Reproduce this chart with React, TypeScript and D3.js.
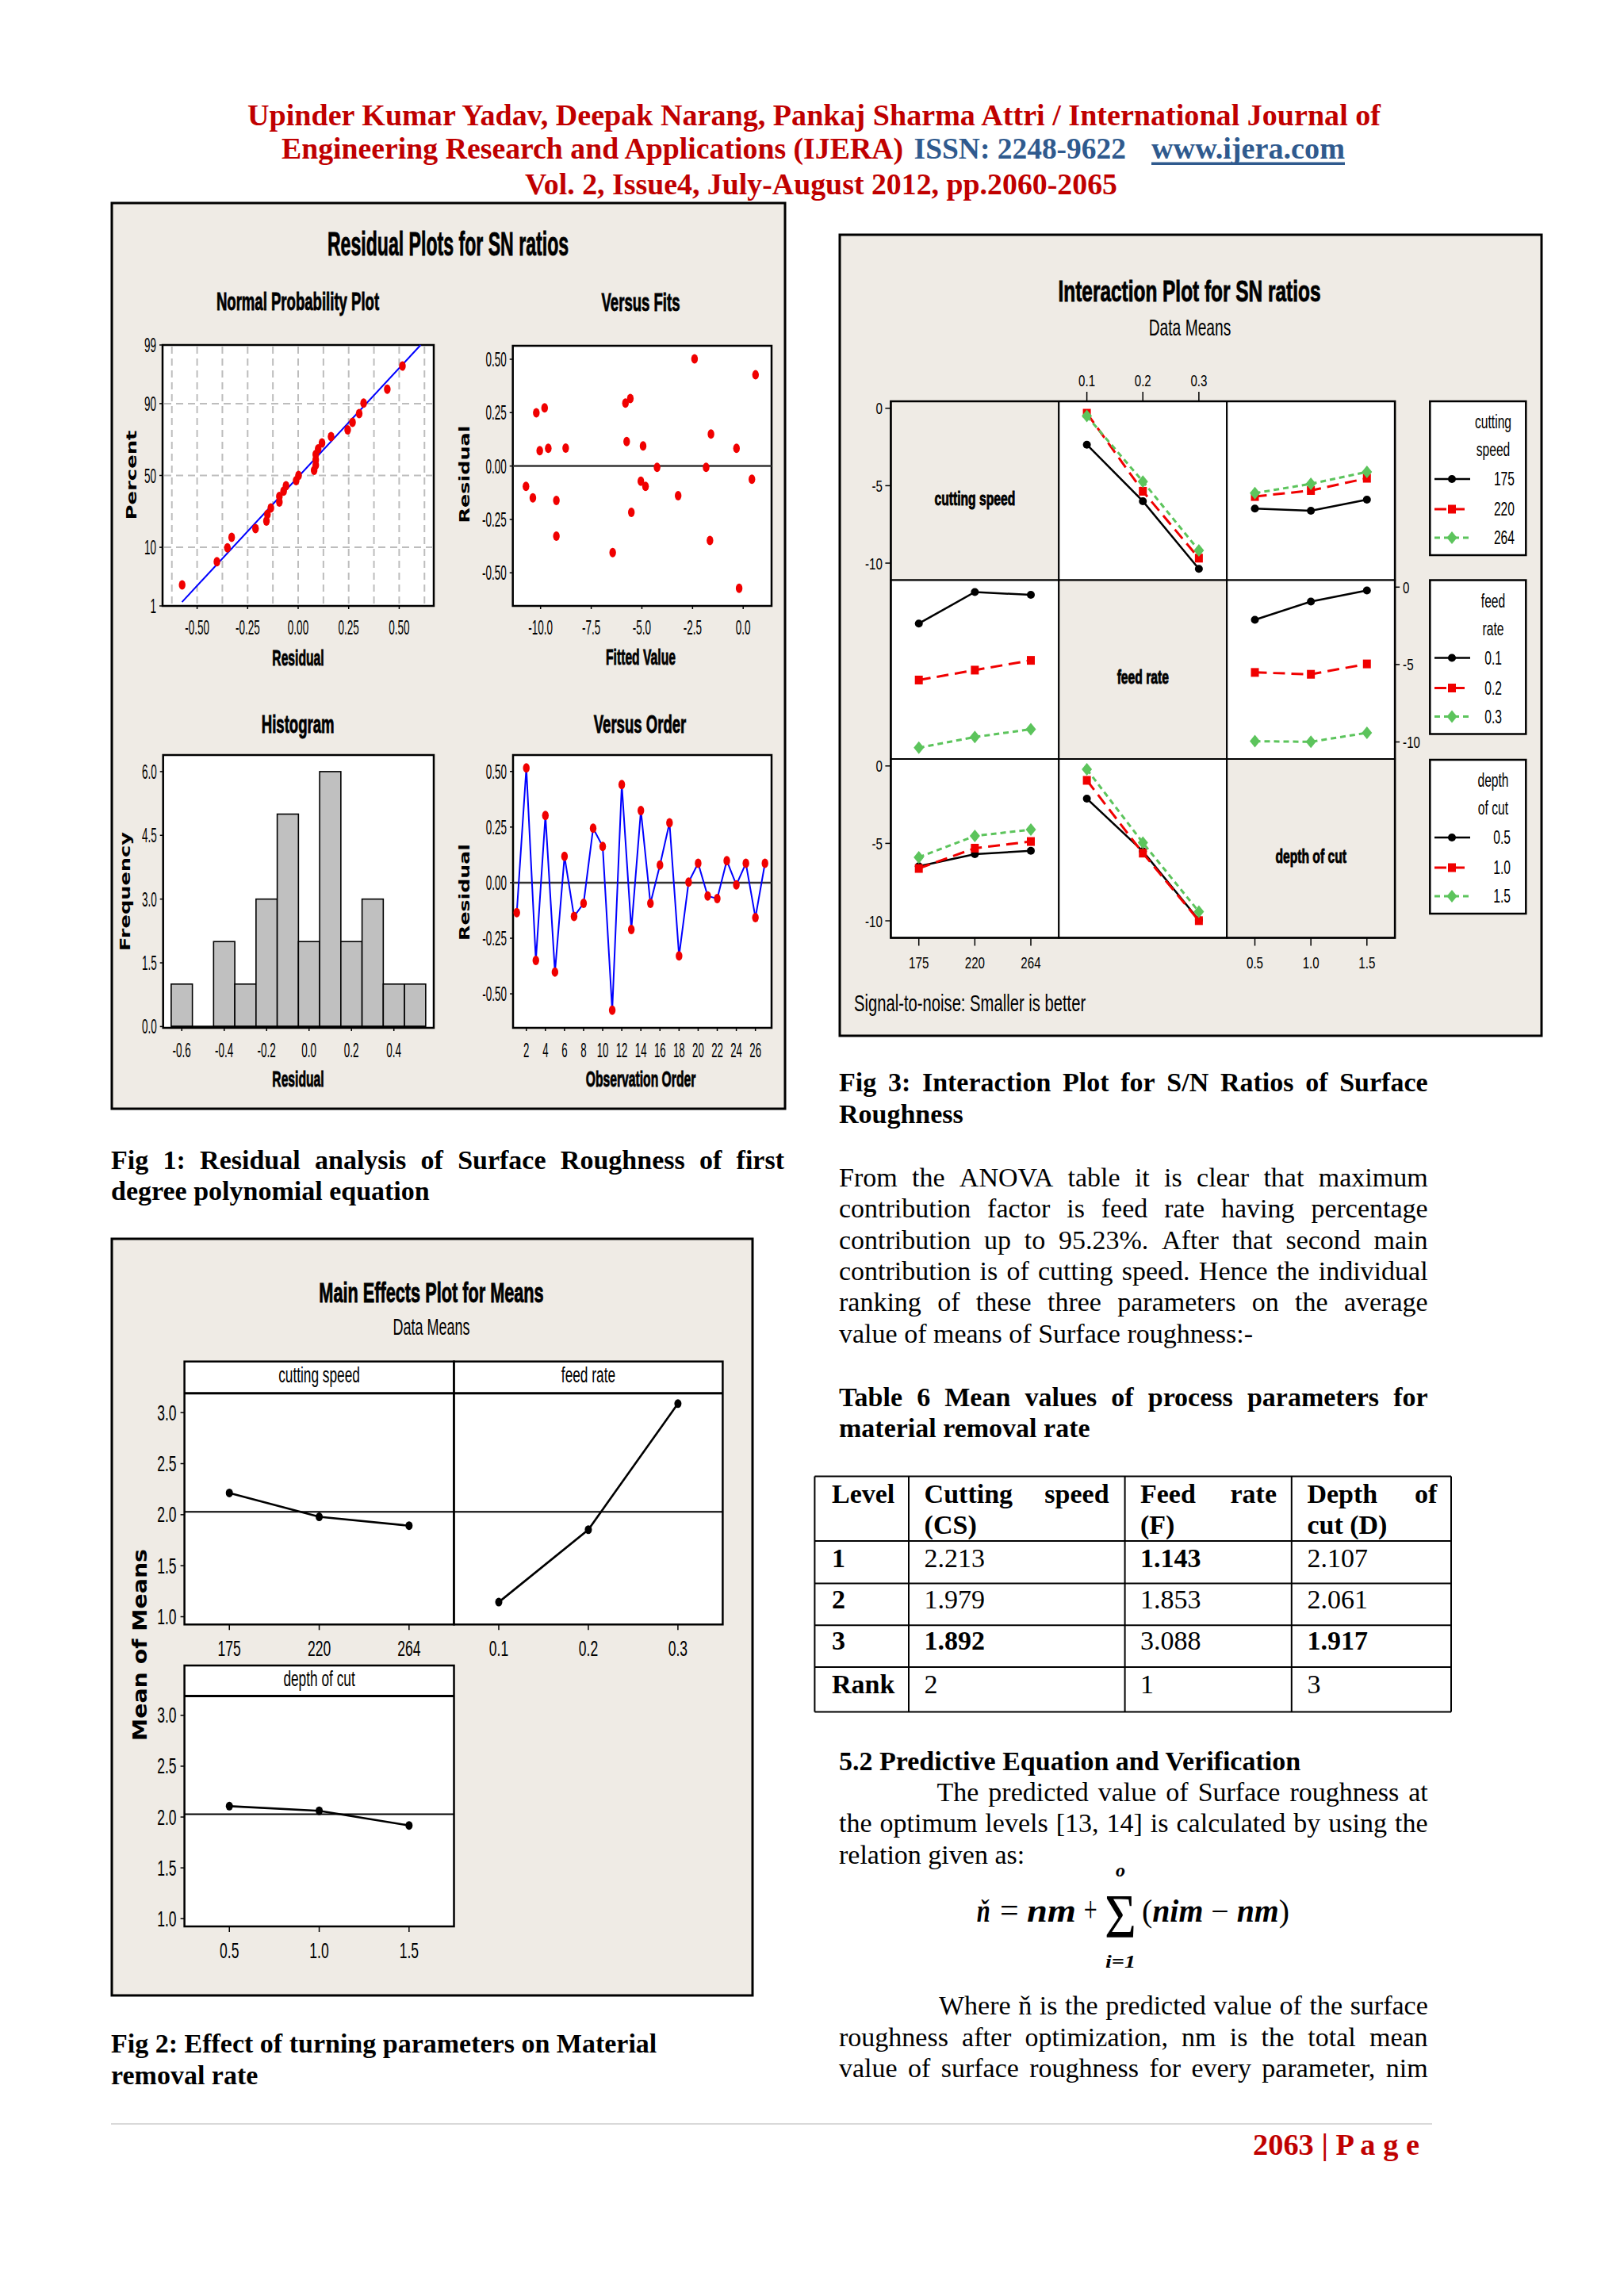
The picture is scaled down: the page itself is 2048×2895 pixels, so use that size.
import React from 'react';
import * as d3 from 'd3';

// ---- Fig 1: residual plots ----
const orderResidual = [-0.135, 0.516, -0.350, 0.302, -0.402, 0.118, -0.152, -0.093, 0.245, 0.163, -0.574, 0.441, -0.211, 0.324, -0.093, 0.079, 0.269, -0.329, 0.002, 0.087, -0.060, -0.072, 0.099, -0.010, 0.087, -0.157, 0.087];
const fitValue = [-10.72, -10.38, -10.21, -10.04, -9.80, -9.62, -9.22, -9.22, -8.76, -6.44, -5.81, -5.75, -5.57, -5.52, -5.05, -4.94, -4.82, -4.25, -3.21, -2.40, -1.83, -1.64, -1.59, -0.33, -0.20, 0.43, 0.61];
const fitResidual = [-0.095, -0.149, 0.249, 0.072, 0.272, 0.083, -0.161, -0.328, 0.084, -0.405, 0.295, 0.115, 0.316, -0.217, -0.071, 0.094, -0.095, -0.006, -0.139, 0.502, -0.006, -0.349, 0.150, 0.083, -0.572, -0.062, 0.427];
const histMid = [-0.6, -0.5, -0.4, -0.3, -0.2, -0.1, 0.0, 0.1, 0.2, 0.3, 0.4, 0.5];
const histCount = [1, 0, 2, 1, 3, 5, 2, 6, 2, 3, 1, 1];

const npPercentTicks = [1, 10, 50, 90, 99];
const npGridPercent = [10, 50, 90];
const npResidTicks = [-0.5, -0.25, 0, 0.25, 0.5];
const fitTicks = [-10, -7.5, -5, -2.5, 0];
const residTicks = [-0.5, -0.25, 0, 0.25, 0.5];
const histXTicks = [-0.6, -0.4, -0.2, 0, 0.2, 0.4];
const histYTicks = [0, 1.5, 3, 4.5, 6];
const orderTicks = [2, 4, 6, 8, 10, 12, 14, 16, 18, 20, 22, 24, 26];

// ---- Fig 2 + Table 6: mean values ----
const csLevels = ['175', '220', '264'];
const feedLevels = ['0.1', '0.2', '0.3'];
const docLevels = ['0.5', '1.0', '1.5'];
const meanCS = [2.213, 1.979, 1.892];
const meanFeed = [1.143, 1.853, 3.088];
const meanDoc = [2.107, 2.061, 1.917];
const rankRow = [2, 1, 3];
const meanTicks = [1.0, 1.5, 2.0, 2.5, 3.0];

// ---- Fig 3: SN ratio interaction means (row = first factor level, col = second) ----
const snCsFeed = [[-2.35, -6.00, -10.37], [-0.32, -5.36, -9.68], [-0.50, -4.73, -9.18]];
const snCsDoc = [[-6.48, -6.62, -5.90], [-5.70, -5.31, -4.52], [-5.48, -4.88, -4.11]];
const snFeedDoc = [[-2.11, -0.93, -0.22], [-5.51, -5.63, -4.96], [-9.95, -9.99, -9.41]];
const snTicks = [0, -5, -10];

const SANS = '"Liberation Sans", Arial, sans-serif';
const WIDE = '"DejaVu Sans", Verdana, sans-serif';
const SERIF = '"Liberation Serif", "Times New Roman", serif';
const BG = '#EFEBE5';
const RED = '#C00000';
const BLUE = '#2F5A8E';
const DOT = '#F00000';

// inverse normal cdf (Acklam) for the probability axis
function probit(p: number): number {
  const a = [-39.69683028665376, 220.9460984245205, -275.9285104469687, 138.357751867269, -30.66479806614716, 2.506628277459239];
  const b = [-54.47609879822406, 161.5858368580409, -155.6989798598866, 66.80131188771972, -13.28068155288572];
  const c = [-0.007784894002430293, -0.3223964580411365, -2.400758277161838, -2.549732539343734, 4.374664141464968, 2.938163982698783];
  const d = [0.007784695709041462, 0.3224671290700398, 2.445134137142996, 3.754408661907416];
  const pl = 0.02425;
  if (p < pl) {
    const q = Math.sqrt(-2 * Math.log(p));
    return (((((c[0] * q + c[1]) * q + c[2]) * q + c[3]) * q + c[4]) * q + c[5]) / ((((d[0] * q + d[1]) * q + d[2]) * q + d[3]) * q + 1);
  }
  if (p > 1 - pl) return -probit(1 - p);
  const q = p - 0.5, r = q * q;
  return (((((a[0] * r + a[1]) * r + a[2]) * r + a[3]) * r + a[4]) * r + a[5]) * q / (((((b[0] * r + b[1]) * r + b[2]) * r + b[3]) * r + b[4]) * r + 1);
}

let ctx: CanvasRenderingContext2D | null = null;
const textWidth = (s: string, font: string) => {
  if (!ctx) ctx = document.createElement('canvas').getContext('2d');
  ctx!.font = font;
  return ctx!.measureText(s).width;
};

// text helper: sx condenses the text horizontally (via textLength so the box stays honest)
const T = ({ x, y, size, children, bold = false, italic = false, heavy = false, anchor = 'start', sx = 1, rot = 0, fill = '#000', family = SANS, len }: any) => {
  let L = len;
  if (!L && sx !== 1) {
    L = textWidth(String(children), `${italic ? 'italic ' : ''}${bold ? 'bold ' : ''}${size}px ${family}`) * sx;
  }
  return (
    <text
      transform={`translate(${x},${y})` + (rot ? ` rotate(${rot})` : '')}
      fontSize={size} fontWeight={bold ? 'bold' : 'normal'} fontStyle={italic ? 'italic' : 'normal'}
      textAnchor={anchor} fill={fill} fontFamily={family}
      stroke={heavy ? fill : undefined} strokeWidth={heavy ? 0.9 : undefined}
      textLength={L} lengthAdjust={L ? 'spacingAndGlyphs' : undefined}>{children}</text>
  );
};

// one line of serif body text, justified to w when given
const Line = ({ x, y, w, text, bold = false, size = 34 }: any) => {
  if (!w) return <text x={x} y={y} fontSize={size} fontFamily={SERIF} fontWeight={bold ? 'bold' : 'normal'}>{text}</text>;
  const words = text.split(' ');
  const font = `${bold ? 'bold ' : ''}${size}px "Liberation Serif"`;
  const ws = words.map((s: string) => textWidth(s, font));
  const gap = (w - d3.sum(ws)) / Math.max(1, words.length - 1);
  let cx = x;
  return (
    <text y={y} fontSize={size} fontFamily={SERIF} fontWeight={bold ? 'bold' : 'normal'}>
      {words.map((s: string, i: number) => { const px = cx; cx += ws[i] + gap; return <tspan key={i} x={px}>{s}</tspan>; })}
    </text>
  );
};

const YTicks = ({ scale, values, x, fmt, size, k, off = 8.5, len = 4, gap = 4, side = 'left' }: any) => (
  <g>
    {values.map((v: number) => (
      <g key={v}>
        <line x1={side === 'left' ? x - len : x} x2={side === 'left' ? x : x + len} y1={scale(v)} y2={scale(v)} stroke="#000" strokeWidth={1.5} />
        <T x={side === 'left' ? x - len - gap : x + len + gap} y={scale(v) + off} size={size} anchor={side === 'left' ? 'end' : 'start'} sx={k}>{fmt(v)}</T>
      </g>
    ))}
  </g>
);

const XTicks = ({ scale, values, y, fmt, size, k, dy = 36, len = 4, up = false }: any) => (
  <g>
    {values.map((v: any) => (
      <g key={v}>
        <line x1={scale(v)} x2={scale(v)} y1={y} y2={up ? y - len : y + len} stroke="#000" strokeWidth={1.5} />
        <T x={scale(v)} y={up ? y - dy : y + dy} size={size} anchor="middle" sx={k}>{fmt(v)}</T>
      </g>
    ))}
  </g>
);

const Frame = ({ x0, y0, x1, y1 }: any) => (
  <rect x={x0} y={y0} width={x1 - x0} height={y1 - y0} fill="#fff" stroke="#000" strokeWidth={2.5} />
);

function Fig1() {
  const k = 0.52;
  const ts = 26;
  const npX = d3.scaleLinear().domain([-0.671, 0.671]).range([205, 547]);
  const npY = d3.scaleLinear().domain([probit(0.01), probit(0.99)]).range([764, 435]);
  const sorted = orderResidual.slice().sort(d3.ascending);
  const n = sorted.length;
  const mu = d3.mean(orderResidual) as number;
  const sd = d3.deviation(orderResidual) as number;
  const fitLine = d3.line<number>().x(z => npX(mu + sd * z)).y(z => npY(z));
  const gridX = d3.range(-5, 6).map(i => i * 0.125);

  const fx = d3.scaleLinear().domain([-11.37, 1.4]).range([646.7, 973]);
  const fy = d3.scaleLinear().domain([-0.655, 0.563]).range([764, 436]);
  const hx = d3.scaleLinear().domain([-0.688, 0.588]).range([205.7, 547]);
  const hy = d3.scaleLinear().domain([-0.03, 6.39]).range([1296, 952]);
  const ox = d3.scaleLinear().domain([0.61, 27.69]).range([647, 973]);
  const oy = d3.scaleLinear().domain([-0.653, 0.574]).range([1296, 952]);
  const orderLine = d3.line<number>().x((_, i) => ox(i + 1)).y(v => oy(v));
  const f2 = (v: number) => v.toFixed(2);
  const f1 = (v: number) => v.toFixed(1);

  return (
    <g>
      <rect x={141} y={256} width={849} height={1142} fill={BG} stroke="#000" strokeWidth={3} />
      <T x={565} y={322} size={42} bold heavy anchor="middle" sx={0.55}>Residual Plots for SN ratios</T>

      {/* normal probability plot */}
      <T x={375.5} y={391} size={32} bold heavy anchor="middle" sx={0.58}>Normal Probability Plot</T>
      <Frame x0={205} y0={435} x1={547} y1={764} />
      {gridX.map(v => <line key={v} x1={npX(v)} x2={npX(v)} y1={437} y2={762} stroke="#BDBDBD" strokeWidth={2} strokeDasharray="9,6" />)}
      {npGridPercent.map(p => <line key={p} x1={207} x2={545} y1={npY(probit(p / 100))} y2={npY(probit(p / 100))} stroke="#BDBDBD" strokeWidth={2} strokeDasharray="9,6" />)}
      <path d={fitLine([probit(0.012), probit(0.99)]) as string} stroke="#0000FF" strokeWidth={2} fill="none" />
      {sorted.map((r, i) => <ellipse key={i} cx={npX(r)} cy={npY(probit((i + 1 - 0.3) / (n + 0.4)))} rx={4.2} ry={6} fill={DOT} />)}
      <YTicks scale={(p: number) => npY(probit(p / 100))} values={npPercentTicks} x={205} fmt={(p: number) => String(p)} size={ts} k={k} off={9} />
      <XTicks scale={npX} values={npResidTicks} y={764} fmt={f2} size={ts} k={k} />
      <T x={376} y={839} size={28} bold heavy anchor="middle" sx={0.56}>Residual</T>
      <T x={171.5} y={599} size={18} bold anchor="middle" rot={-90} family={WIDE} len={113}>Percent</T>

      {/* versus fits */}
      <T x={808} y={392} size={32} bold heavy anchor="middle" sx={0.58}>Versus Fits</T>
      <Frame x0={646.7} y0={436} x1={973} y1={764} />
      <line x1={647} x2={973} y1={fy(0)} y2={fy(0)} stroke="#333" strokeWidth={2.5} />
      {fitValue.map((v, i) => <ellipse key={i} cx={fx(v)} cy={fy(fitResidual[i])} rx={4.2} ry={6} fill={DOT} />)}
      <YTicks scale={fy} values={residTicks} x={646.7} fmt={f2} size={ts} k={k} off={9} />
      <XTicks scale={fx} values={fitTicks} y={764} fmt={f1} size={ts} k={k} />
      <T x={808} y={838} size={28} bold heavy anchor="middle" sx={0.56}>Fitted Value</T>
      <T x={591.7} y={598} size={18} bold anchor="middle" rot={-90} family={WIDE} len={123}>Residual</T>

      {/* histogram */}
      <T x={375.7} y={924} size={32} bold heavy anchor="middle" sx={0.58}>Histogram</T>
      <Frame x0={205.7} y0={952} x1={547} y1={1296} />
      {histMid.map((m, i) => histCount[i] > 0 && (
        <rect key={m} x={hx(m - 0.05)} y={hy(histCount[i])} width={hx(m + 0.05) - hx(m - 0.05)} height={hy(0) - hy(histCount[i])}
          fill="#C0C0C0" stroke="#000" strokeWidth={1.6} />
      ))}
      <line x1={hx(-0.65)} x2={hx(0.55)} y1={hy(0)} y2={hy(0)} stroke="#000" strokeWidth={2.5} />
      <YTicks scale={hy} values={histYTicks} x={205.7} fmt={f1} size={ts} k={k} off={9} />
      <XTicks scale={hx} values={histXTicks} y={1296} fmt={f1} size={ts} k={k} dy={37} />
      <T x={376} y={1370} size={28} bold heavy anchor="middle" sx={0.56}>Residual</T>
      <T x={163.5} y={1124} size={18} bold anchor="middle" rot={-90} family={WIDE} len={150}>Frequency</T>

      {/* versus order */}
      <T x={807} y={924} size={32} bold heavy anchor="middle" sx={0.58}>Versus Order</T>
      <Frame x0={647} y0={952} x1={973} y1={1296} />
      <line x1={647} x2={973} y1={oy(0)} y2={oy(0)} stroke="#333" strokeWidth={2.5} />
      <path d={orderLine(orderResidual) as string} stroke="#0000FF" strokeWidth={2} fill="none" />
      {orderResidual.map((v, i) => <ellipse key={i} cx={ox(i + 1)} cy={oy(v)} rx={4.2} ry={6} fill={DOT} />)}
      <YTicks scale={oy} values={residTicks} x={647} fmt={f2} size={ts} k={k} off={9} />
      <XTicks scale={ox} values={orderTicks} y={1296} fmt={(v: number) => String(v)} size={25} k={0.53} dy={36.5} />
      <T x={808} y={1370} size={28} bold heavy anchor="middle" sx={0.56}>Observation Order</T>
      <T x={591.7} y={1125} size={18} bold anchor="middle" rot={-90} family={WIDE} len={122}>Residual</T>
    </g>
  );
}

function Fig2() {
  const k = 0.65;
  const yDom = [0.924, 3.19];
  const panels = [
    { label: 'cutting speed', levels: csLevels, means: meanCS, x0: 232.6, x1: 572.5, st: 1716.7, top: 1756.7, bot: 2048.3, axis: true },
    { label: 'feed rate', levels: feedLevels, means: meanFeed, x0: 572.5, x1: 911.4, st: 1716.7, top: 1756.7, bot: 2048.3, axis: false },
    { label: 'depth of cut', levels: docLevels, means: meanDoc, x0: 232.6, x1: 572.5, st: 2100, top: 2138.5, bot: 2429, axis: true },
  ];
  return (
    <g>
      <rect x={141} y={1562} width={808} height={954} fill={BG} stroke="#000" strokeWidth={3} />
      <T x={544} y={1642} size={35} bold heavy anchor="middle" sx={0.62}>Main Effects Plot for Means</T>
      <T x={544} y={1683} size={30} anchor="middle" sx={0.6}>Data Means</T>
      {panels.map(p => {
        const ys = d3.scaleLinear().domain(yDom).range([p.bot, p.top]);
        const xs = d3.scalePoint<string>().domain(p.levels).range([p.x0, p.x1]).padding(0.5);
        const line = d3.line<number>().x((_, i) => xs(p.levels[i]) as number).y(v => ys(v));
        const grand = d3.mean(p.means) as number;
        return (
          <g key={p.label}>
            <rect x={p.x0} y={p.st} width={p.x1 - p.x0} height={p.bot - p.st} fill="#fff" stroke="#000" strokeWidth={2.5} />
            <line x1={p.x0} x2={p.x1} y1={p.top} y2={p.top} stroke="#000" strokeWidth={3} />
            <T x={(p.x0 + p.x1) / 2} y={p.st + 26} size={27} anchor="middle" sx={0.64}>{p.label}</T>
            <line x1={p.x0} x2={p.x1} y1={ys(grand)} y2={ys(grand)} stroke="#000" strokeWidth={2} />
            <path d={line(p.means) as string} stroke="#000" strokeWidth={2.6} fill="none" />
            {p.means.map((v, i) => <ellipse key={i} cx={xs(p.levels[i])} cy={ys(v)} rx={4.5} ry={5.5} fill="#000" />)}
            {p.axis && <YTicks scale={ys} values={meanTicks} x={p.x0} fmt={(v: number) => v.toFixed(1)} size={27} k={k} off={9.5} len={5} gap={5} />}
            <XTicks scale={xs} values={p.levels} y={p.bot} fmt={(v: string) => v} size={27} k={k} dy={40} len={7} />
          </g>
        );
      })}
      <line x1={572.5} x2={572.5} y1={1716.7} y2={2048.3} stroke="#000" strokeWidth={2} />
      <T x={184.5} y={2074} size={25} bold anchor="middle" rot={-90} family={WIDE} len={242}>Mean of Means</T>
    </g>
  );
}

const seriesStyle = [
  { color: '#000', dash: undefined, width: 2.5, marker: 'circle' },
  { color: '#F00000', dash: '15,8', width: 3, marker: 'square' },
  { color: '#5CC45C', dash: '7,5', width: 3, marker: 'diamond' },
];

const Marker = ({ kind, x, y, color }: any) => {
  if (kind === 'circle') return <circle cx={x} cy={y} r={5} fill={color} />;
  if (kind === 'square') return <rect x={x - 5} y={y - 5.5} width={10} height={11} fill={color} />;
  return <path d={`M${x},${y - 8}L${x + 6.5},${y}L${x},${y + 8}L${x - 6.5},${y}Z`} fill={color} />;
};

function Fig3() {
  const k = 0.72;
  const colX = [1123.4, 1335.3, 1547.2, 1759.1];
  const rowY = [506, 731.5, 957, 1182.5];
  const factors = [
    { name: 'cutting speed', legend: ['cutting', 'speed'], levels: csLevels, labelEnd: 1910 },
    { name: 'feed rate', legend: ['feed', 'rate'], levels: feedLevels, labelEnd: 1894 },
    { name: 'depth of cut', legend: ['depth', 'of cut'], levels: docLevels, labelEnd: 1905 },
  ];
  const pair: any = { '0-1': snCsFeed, '0-2': snCsDoc, '1-2': snFeedDoc };
  const val = (r: number, c: number, i: number, j: number) => (r < c ? pair[`${r}-${c}`][i][j] : pair[`${c}-${r}`][j][i]);
  const legendTop = [506, 731.5, 958];
  const cells: any[] = [];
  for (let r = 0; r < 3; r++) {
    for (let c = 0; c < 3; c++) {
      const x0 = colX[c], x1 = colX[c + 1], y0 = rowY[r], y1 = rowY[r + 1];
      if (r === c) {
        cells.push(
          <g key={`${r}${c}`}>
            <rect x={x0} y={y0} width={x1 - x0} height={y1 - y0} fill={BG} stroke="#000" strokeWidth={2} />
            <T x={(x0 + x1) / 2} y={(y0 + y1) / 2 + 18} size={23} bold heavy anchor="middle" sx={0.68}>{factors[r].name}</T>
          </g>
        );
        continue;
      }
      const xs = d3.scalePoint<string>().domain(factors[c].levels).range([x0, x1]).padding(0.5);
      const ys = d3.scaleLinear().domain([-11.1, 0.45]).range([y1, y0]);
      cells.push(
        <g key={`${r}${c}`}>
          <rect x={x0} y={y0} width={x1 - x0} height={y1 - y0} fill="#fff" stroke="#000" strokeWidth={2} />
          {factors[r].levels.map((_, i) => {
            const st = seriesStyle[i];
            const pts = factors[c].levels.map((lv, j) => [xs(lv) as number, ys(val(r, c, i, j))] as [number, number]);
            return (
              <g key={i}>
                <path d={d3.line()(pts) as string} stroke={st.color} strokeWidth={st.width} strokeDasharray={st.dash} fill="none" />
                {pts.map((p, j) => <Marker key={j} kind={st.marker} x={p[0]} y={p[1]} color={st.color} />)}
              </g>
            );
          })}
        </g>
      );
    }
  }
  const rowScale = (r: number) => d3.scaleLinear().domain([-11.1, 0.45]).range([rowY[r + 1], rowY[r]]);
  const colScale = (c: number) => d3.scalePoint<string>().domain(factors[c].levels).range([colX[c], colX[c + 1]]).padding(0.5);
  return (
    <g>
      <rect x={1059} y={296} width={885} height={1010} fill={BG} stroke="#000" strokeWidth={3} />
      <T x={1500} y={380} size={37} bold heavy anchor="middle" sx={0.66}>Interaction Plot for SN ratios</T>
      <T x={1500.5} y={423} size={30} anchor="middle" sx={0.64}>Data Means</T>
      {cells}
      <rect x={colX[0]} y={rowY[0]} width={colX[3] - colX[0]} height={rowY[3] - rowY[0]} fill="none" stroke="#000" strokeWidth={2.5} />
      <YTicks scale={rowScale(0)} values={snTicks} x={colX[0]} fmt={String} size={21} k={k} off={7.5} len={7} gap={3.5} />
      <YTicks scale={rowScale(1)} values={snTicks} x={colX[3]} fmt={String} size={21} k={k} off={7.5} len={6} gap={4} side="right" />
      <YTicks scale={rowScale(2)} values={snTicks} x={colX[0]} fmt={String} size={21} k={k} off={7.5} len={7} gap={3.5} />
      <XTicks scale={colScale(0)} values={csLevels} y={rowY[3]} fmt={(v: string) => v} size={21} k={k} dy={38} len={10} />
      <XTicks scale={colScale(1)} values={feedLevels} y={rowY[0]} fmt={(v: string) => v} size={21} k={k} dy={19.5} len={12} up />
      <XTicks scale={colScale(2)} values={docLevels} y={rowY[3]} fmt={(v: string) => v} size={21} k={k} dy={38} len={10} />
      {factors.map((f, r) => {
        const t = legendTop[r];
        return (
          <g key={f.name}>
            <rect x={1803.3} y={t} width={121} height={194} fill="#fff" stroke="#000" strokeWidth={2.5} />
            <T x={1883} y={t + 34} size={23} anchor="middle" sx={0.68}>{f.legend[0]}</T>
            <T x={1883} y={t + 69} size={23} anchor="middle" sx={0.68}>{f.legend[1]}</T>
            {f.levels.map((lv, i) => {
              const st = seriesStyle[i];
              const cy = t + [98, 136, 172][i];
              return (
                <g key={lv}>
                  <line x1={1809} x2={1854} y1={cy} y2={cy} stroke={st.color} strokeWidth={st.width} strokeDasharray={st.dash} />
                  <Marker kind={st.marker} x={1831} y={cy} color={st.color} />
                  <T x={f.labelEnd} y={cy + 8} size={23} anchor="end" sx={0.68}>{lv}</T>
                </g>
              );
            })}
          </g>
        );
      })}
      <T x={1077} y={1274.5} size={30} sx={0.674}>Signal-to-noise: Smaller is better</T>
    </g>
  );
}

function Table6() {
  const cols = [1027.4, 1146, 1418.6, 1628.8, 1830];
  const rows = [1861.5, 1943, 1996.4, 2049.3, 2102, 2158.6];
  const textX = [1049, 1165.6, 1438, 1648.4];
  const rowBase = [1975.5, 2027.8, 2080, 2135];
  const colsData = [meanCS, meanFeed, meanDoc];
  return (
    <g>
      {rows.map(y => <line key={y} x1={cols[0]} x2={cols[4]} y1={y} y2={y} stroke="#000" strokeWidth={2} />)}
      {cols.map(x => <line key={x} x1={x} x2={x} y1={rows[0]} y2={rows[5]} stroke="#000" strokeWidth={2} />)}
      <Line x={textX[0]} y={1894.5} bold text="Level" />
      <Line x={textX[1]} y={1894.5} w={233} bold text="Cutting speed" />
      <Line x={textX[1]} y={1933.7} bold text="(CS)" />
      <Line x={textX[2]} y={1894.5} w={172} bold text="Feed rate" />
      <Line x={textX[2]} y={1933.7} bold text="(F)" />
      <Line x={textX[3]} y={1894.5} w={164} bold text="Depth of" />
      <Line x={textX[3]} y={1933.7} bold text="cut (D)" />
      {[0, 1, 2].map(i => (
        <g key={i}>
          <Line x={textX[0]} y={rowBase[i]} bold text={String(i + 1)} />
          {colsData.map((col, c) => (
            <Line key={c} x={textX[c + 1]} y={rowBase[i]} bold={col[i] === d3.min(col)} text={col[i].toFixed(3)} />
          ))}
        </g>
      ))}
      <Line x={textX[0]} y={rowBase[3]} bold text="Rank" />
      {rankRow.map((r, c) => <Line key={c} x={textX[c + 1]} y={rowBase[3]} text={String(r)} />)}
    </g>
  );
}

function Body() {
  const L = 1058, W = 742.6;
  const para = [
    'From the ANOVA table it is clear that maximum',
    'contribution factor is feed rate having percentage',
    'contribution up to 95.23%. After that second main',
    'contribution is of cutting speed. Hence the individual',
    'ranking of these three parameters on the average',
    'value of means of Surface roughness:-',
  ];
  const paraY = [1496, 1535.4, 1574.6, 1614, 1653.2, 1692.5];
  return (
    <g>
      <Line x={140} y={1474} w={849} bold text="Fig 1: Residual analysis of Surface Roughness of first" />
      <Line x={140} y={1513} bold text="degree polynomial equation" />
      <Line x={140} y={2588} bold text="Fig 2: Effect of turning parameters on Material" />
      <Line x={140} y={2628} bold text="removal rate" />

      <Line x={L} y={1376.4} w={W} bold text="Fig 3: Interaction Plot for S/N Ratios of Surface" />
      <Line x={L} y={1415.7} bold text="Roughness" />
      {para.map((t, i) => <Line key={i} x={L} y={paraY[i]} w={i < para.length - 1 ? W : undefined} text={t} />)}
      <Line x={L} y={1772.9} w={W} bold text="Table 6 Mean values of process parameters for" />
      <Line x={L} y={1812} bold text="material removal rate" />
      <Table6 />
      <Line x={L} y={2231.8} bold text="5.2 Predictive Equation and Verification" />
      <Line x={1181.5} y={2271} w={1800.8 - 1181.5} text="The predicted value of Surface roughness at" />
      <Line x={L} y={2310} w={W} text="the optimum levels [13, 14] is calculated by using the" />
      <Line x={L} y={2349.5} text="relation given as:" />

      {/* equation */}
      <T x={1231.7} y={2422.7} size={40} bold italic family={SERIF} len={17}>ň</T>
      <T x={1261} y={2422.7} size={44} family={SERIF} len={23.7}>=</T>
      <T x={1295} y={2422.7} size={40} bold italic family={SERIF} len={62}>nm</T>
      <T x={1366.7} y={2422.7} size={46} family={SERIF} len={17}>+</T>
      <T x={1393} y={2442} size={78} family={SERIF} len={40}>Σ</T>
      <T x={1413} y={2366} size={24} bold italic family={SERIF} anchor="middle">o</T>
      <T x={1413} y={2481} size={24} bold italic family={SERIF} anchor="middle" len={38}>i=1</T>
      <text x={1440} y={2422.7} fontSize={40} fontFamily={SERIF} textLength={186} lengthAdjust="spacingAndGlyphs">
        <tspan>(</tspan><tspan fontWeight="bold" fontStyle="italic">nim</tspan><tspan> − </tspan><tspan fontWeight="bold" fontStyle="italic">nm</tspan><tspan>)</tspan>
      </text>

      <Line x={1184} y={2540.4} w={1800.8 - 1184} text="Where ň is the predicted value of the surface" />
      <Line x={L} y={2579.6} w={W} text="roughness after optimization, nm is the total mean" />
      <Line x={L} y={2618.8} w={W} text="value of surface roughness for every parameter, nim" />
    </g>
  );
}

function Header() {
  return (
    <g>
      <T x={312} y={158} size={37} bold family={SERIF} fill={RED} len={1429}>Upinder Kumar Yadav, Deepak Narang, Pankaj Sharma Attri / International Journal of</T>
      <T x={355} y={200} size={37} bold family={SERIF} fill={RED} len={784}>Engineering Research and Applications (IJERA)</T>
      <T x={1152.6} y={200} size={37} bold family={SERIF} fill={BLUE} len={267.4}>ISSN: 2248-9622</T>
      <T x={1452} y={200} size={37} bold family={SERIF} fill={BLUE} len={244}>www.ijera.com</T>
      <rect x={1452} y={204.5} width={244} height={3.5} fill={BLUE} />
      <T x={662} y={245} size={37} bold family={SERIF} fill={RED} len={747}>Vol. 2, Issue4, July-August 2012, pp.2060-2065</T>
    </g>
  );
}

function Footer() {
  return (
    <g>
      <line x1={140} x2={1806} y1={2678} y2={2678} stroke="#D9D9D9" strokeWidth={2} />
      <T x={1580} y={2717} size={37} bold family={SERIF} fill={RED} len={210}>2063 | P a g e</T>
    </g>
  );
}

export default function App() {
  return (
    <svg width={2048} height={2895} viewBox="0 0 2048 2895" style={{ position: 'absolute', left: 0, top: 0, display: 'block' }}>
      <rect width={2048} height={2895} fill="#fff" />
      <Header />
      <Fig1 />
      <Fig2 />
      <Fig3 />
      <Body />
      <Footer />
    </svg>
  );
}
